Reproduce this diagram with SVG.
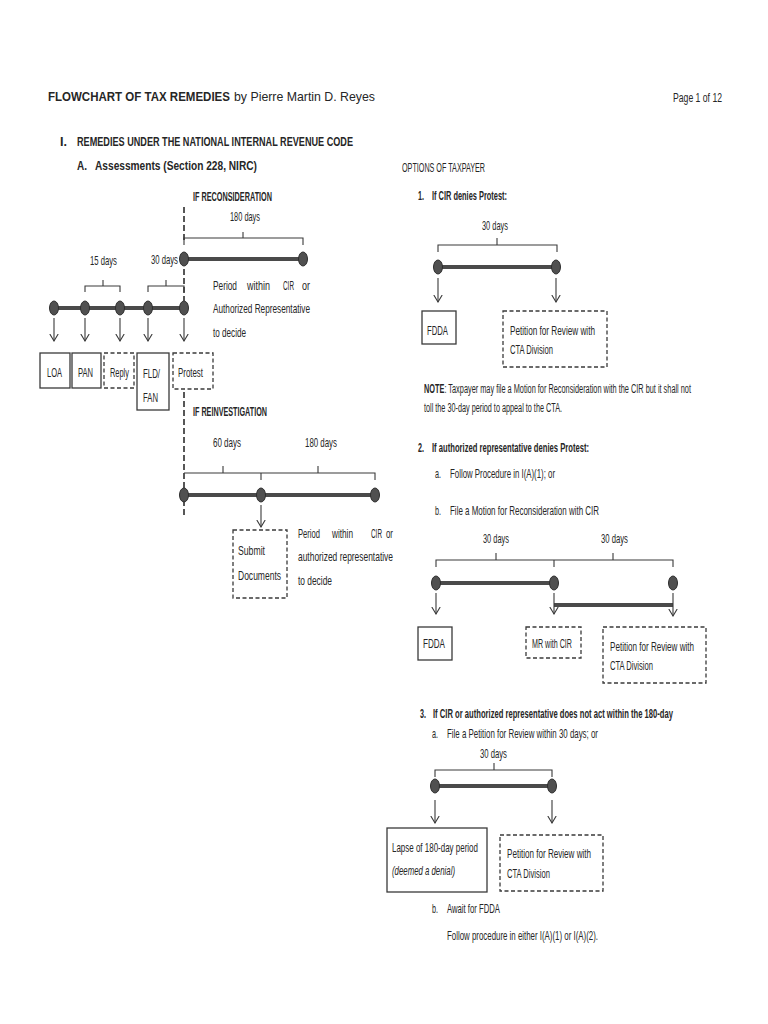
<svg xmlns="http://www.w3.org/2000/svg" width="768" height="1024" viewBox="0 0 768 1024">
<style>
text{font-family:"Liberation Sans",Arial,sans-serif;fill:#262626;font-size:13.5px}
.b{font-weight:bold}
.s{font-size:12px}
.i{font-style:italic}
.box{fill:none;stroke:#3a3a3a;stroke-width:1.3}
.dbox{fill:none;stroke:#3a3a3a;stroke-width:1.3;stroke-dasharray:4 2.5}
.br{fill:none;stroke:#3a3a3a;stroke-width:1.1}
.tl{stroke:#4a4a4a;stroke-width:4;stroke-linecap:butt}
.dot{fill:#505050;stroke:#2e2e2e;stroke-width:1}
.arr{stroke:#3a3a3a;stroke-width:1.1;fill:none;marker-end:url(#ah)}
.dv{stroke:#2e2e2e;stroke-width:1.6;stroke-dasharray:6 3;fill:none}
</style>
<defs>
<marker id="ah" viewBox="0 0 8 10" refX="7.5" refY="5" markerWidth="8" markerHeight="10" markerUnits="userSpaceOnUse" orient="auto">
<path d="M0.5,0.8 L7.5,5 L0.5,9.2" fill="none" stroke="#3a3a3a" stroke-width="1.1"/>
</marker>
</defs>
<rect width="768" height="1024" fill="#ffffff"/>

<g id="header">
<text transform="translate(48,101) scale(0.62,1)" class="b" font-size="21" textLength="293.5" lengthAdjust="spacingAndGlyphs">FLOWCHART OF TAX REMEDIES</text>
<text transform="translate(234,101) scale(0.62,1)" font-size="21" textLength="227.4" lengthAdjust="spacingAndGlyphs" fill="#333">by Pierre Martin D. Reyes</text>
<text transform="translate(673,102) scale(0.65,1)" font-size="14.5" textLength="75.4" lengthAdjust="spacingAndGlyphs">Page 1 of 12</text>
<text transform="translate(60,146) scale(0.6,1)" class="b" font-size="15" textLength="11.7" lengthAdjust="spacingAndGlyphs">I.</text>
<text transform="translate(77,146) scale(0.6,1)" class="b" font-size="15" textLength="460" lengthAdjust="spacingAndGlyphs">REMEDIES UNDER THE NATIONAL INTERNAL REVENUE CODE</text>
<text transform="translate(77,170) scale(0.6,1)" class="b" font-size="15" textLength="16.7" lengthAdjust="spacingAndGlyphs">A.</text>
<text transform="translate(95,170) scale(0.6,1)" class="b" font-size="15" textLength="270" lengthAdjust="spacingAndGlyphs">Assessments (Section 228, NIRC)</text>
<text transform="translate(402,172) scale(0.65,1)" class="s" textLength="127.7" lengthAdjust="spacingAndGlyphs">OPTIONS OF TAXPAYER</text>
</g>

<g id="connectors">
<path class="dv" d="M184,207 V240 M184,269 V301 M184,392 V517"/>
<path class="br" d="M184,245 V238 H303 V245 M243,232 V238"/>
<line class="tl" x1="184" y1="259" x2="303" y2="259"/>
<path class="br" d="M85,292 V286 H120 V292 M103,280 V286"/>
<path class="br" d="M148,292 V286 H184 V292 M166,280 V286"/>
<line class="tl" x1="54" y1="308" x2="184" y2="308"/>
<line class="arr" x1="54" y1="318" x2="54" y2="341"/>
<line class="arr" x1="85" y1="318" x2="85" y2="341"/>
<line class="arr" x1="120" y1="318" x2="120" y2="341"/>
<line class="arr" x1="148" y1="318" x2="148" y2="341"/>
<line class="arr" x1="184" y1="318" x2="184" y2="341"/>
<path class="br" d="M184,473 H375 V480 M223,466 V473 M318,466 V473 M261,473 V480"/>
<line class="tl" x1="184" y1="495" x2="375" y2="495"/>
<line class="arr" x1="261" y1="505" x2="261" y2="527"/>
<path class="br" d="M438,252 V245 H557 V252 M497,238 V245"/>
<line class="tl" x1="438" y1="267" x2="556" y2="267"/>
<line class="arr" x1="438" y1="278" x2="438" y2="302"/>
<line class="arr" x1="556" y1="278" x2="556" y2="302"/>
<path class="br" d="M436,567 V560 H673 V567 M496,553 V560 M613,553 V560 M554,560 V567"/>
<line class="tl" x1="436" y1="583" x2="554" y2="583"/>
<line class="tl" x1="554" y1="605" x2="673" y2="605"/>
<line class="arr" x1="436" y1="593" x2="436" y2="614"/>
<line class="arr" x1="554" y1="593" x2="554" y2="614"/>
<line class="arr" x1="673" y1="593" x2="673" y2="616"/>
<path class="br" d="M435,777 V770 H552 V777 M494,763 V770"/>
<line class="tl" x1="435" y1="786" x2="552" y2="786"/>
<line class="arr" x1="435" y1="800" x2="435" y2="823"/>
<line class="arr" x1="552" y1="800" x2="552" y2="823"/>
</g>

<g id="points">
<ellipse class="dot" cx="184" cy="259" rx="4.5" ry="7"/>
<ellipse class="dot" cx="303" cy="259" rx="4.5" ry="7"/>
<ellipse class="dot" cx="54" cy="308" rx="4.5" ry="7"/>
<ellipse class="dot" cx="85" cy="308" rx="4.5" ry="7"/>
<ellipse class="dot" cx="120" cy="308" rx="4.5" ry="7"/>
<ellipse class="dot" cx="148" cy="308" rx="4.5" ry="7"/>
<ellipse class="dot" cx="184" cy="308" rx="4.5" ry="7"/>
<ellipse class="dot" cx="184" cy="495" rx="4.5" ry="7"/>
<ellipse class="dot" cx="261" cy="495" rx="4.5" ry="7"/>
<ellipse class="dot" cx="375" cy="495" rx="4.5" ry="7"/>
<ellipse class="dot" cx="438" cy="267" rx="4.5" ry="7"/>
<ellipse class="dot" cx="556" cy="267" rx="4.5" ry="7"/>
<ellipse class="dot" cx="436" cy="583" rx="4.5" ry="7"/>
<ellipse class="dot" cx="554" cy="583" rx="4.5" ry="7"/>
<ellipse class="dot" cx="673" cy="583" rx="4.5" ry="7"/>
<ellipse class="dot" cx="435" cy="786" rx="4.5" ry="7"/>
<ellipse class="dot" cx="552" cy="786" rx="4.5" ry="7"/>
</g>

<g id="labels-left">
<text transform="translate(193,201) scale(0.6,1)" class="b s" textLength="131.7" lengthAdjust="spacingAndGlyphs">IF RECONSIDERATION</text>
<text transform="translate(230,221) scale(0.62,1)" textLength="48.4" lengthAdjust="spacingAndGlyphs">180 days</text>
<text transform="translate(151,264) scale(0.62,1)" textLength="43.5" lengthAdjust="spacingAndGlyphs">30 days</text>
<text transform="translate(90,265) scale(0.62,1)" textLength="43.5" lengthAdjust="spacingAndGlyphs">15 days</text>
<text transform="translate(213,290) scale(0.62,1)" textLength="38.7" lengthAdjust="spacingAndGlyphs">Period</text>
<text transform="translate(247,290) scale(0.62,1)" textLength="37.1" lengthAdjust="spacingAndGlyphs">within</text>
<text transform="translate(283,290) scale(0.55,1)" textLength="20" lengthAdjust="spacingAndGlyphs">CIR</text>
<text transform="translate(302,290) scale(0.62,1)" textLength="12.9" lengthAdjust="spacingAndGlyphs">or</text>
<text transform="translate(213,313) scale(0.62,1)" textLength="156.5" lengthAdjust="spacingAndGlyphs">Authorized Representative</text>
<text transform="translate(213,337) scale(0.62,1)" textLength="53.2" lengthAdjust="spacingAndGlyphs">to decide</text>
<text transform="translate(193,416) scale(0.6,1)" class="b s" textLength="123.3" lengthAdjust="spacingAndGlyphs">IF REINVESTIGATION</text>
<text transform="translate(213,447) scale(0.62,1)" textLength="45.2" lengthAdjust="spacingAndGlyphs">60 days</text>
<text transform="translate(305,447) scale(0.62,1)" textLength="51.6" lengthAdjust="spacingAndGlyphs">180 days</text>
<text transform="translate(298,538) scale(0.62,1)" textLength="35.5" lengthAdjust="spacingAndGlyphs">Period</text>
<text transform="translate(332,538) scale(0.62,1)" textLength="33.9" lengthAdjust="spacingAndGlyphs">within</text>
<text transform="translate(371,538) scale(0.5,1)" textLength="22" lengthAdjust="spacingAndGlyphs">CIR</text>
<text transform="translate(386,538) scale(0.55,1)" textLength="12.7" lengthAdjust="spacingAndGlyphs">or</text>
<text transform="translate(298,561) scale(0.62,1)" textLength="153.2" lengthAdjust="spacingAndGlyphs">authorized representative</text>
<text transform="translate(298,585) scale(0.62,1)" textLength="54.8" lengthAdjust="spacingAndGlyphs">to decide</text>
</g>

<g id="node-loa"><rect class="box" x="40" y="353" width="30" height="35"/><text transform="translate(47,377) scale(0.62,1)" textLength="24.2" lengthAdjust="spacingAndGlyphs">LOA</text></g>
<g id="node-pan"><rect class="box" x="72" y="353" width="29" height="35"/><text transform="translate(78,377) scale(0.62,1)" textLength="24.2" lengthAdjust="spacingAndGlyphs">PAN</text></g>
<g id="node-reply"><rect class="dbox" x="104" y="353" width="30" height="35"/><text transform="translate(110,377) scale(0.62,1)" textLength="30.6" lengthAdjust="spacingAndGlyphs">Reply</text></g>
<g id="node-fld"><rect class="box" x="137" y="353" width="32" height="57"/><text transform="translate(143,378) scale(0.62,1)" textLength="27.4" lengthAdjust="spacingAndGlyphs">FLD/</text><text transform="translate(143,402) scale(0.62,1)" textLength="24.2" lengthAdjust="spacingAndGlyphs">FAN</text></g>
<g id="node-protest"><rect class="dbox" x="173" y="353" width="40" height="36"/><text transform="translate(178,377) scale(0.62,1)" textLength="40.3" lengthAdjust="spacingAndGlyphs">Protest</text></g>
<g id="node-submit"><rect class="dbox" x="233" y="530" width="54" height="68"/><text transform="translate(238,555) scale(0.62,1)" textLength="43.5" lengthAdjust="spacingAndGlyphs">Submit</text><text transform="translate(238,580) scale(0.62,1)" textLength="69.4" lengthAdjust="spacingAndGlyphs">Documents</text></g>

<g id="labels-right">
<text transform="translate(418,200) scale(0.6,1)" class="b" textLength="10" lengthAdjust="spacingAndGlyphs">1.</text>
<text transform="translate(432,200) scale(0.6,1)" class="b" textLength="125" lengthAdjust="spacingAndGlyphs">If CIR denies Protest:</text>
<text transform="translate(482,230) scale(0.62,1)" textLength="41.9" lengthAdjust="spacingAndGlyphs">30 days</text>
<text transform="translate(424,393) scale(0.6,1)" font-size="12" textLength="445" lengthAdjust="spacingAndGlyphs"><tspan class="b">NOTE</tspan>: Taxpayer may file a Motion for Reconsideration with the CIR but it shall not</text>
<text transform="translate(424,412) scale(0.6,1)" font-size="12" textLength="230" lengthAdjust="spacingAndGlyphs">toll the 30-day period to appeal to the CTA.</text>
<text transform="translate(418,452) scale(0.6,1)" class="b" textLength="10" lengthAdjust="spacingAndGlyphs">2.</text>
<text transform="translate(432,452) scale(0.6,1)" class="b" textLength="261.7" lengthAdjust="spacingAndGlyphs">If authorized representative denies Protest:</text>
<text transform="translate(435,478) scale(0.62,1)" textLength="9.7" lengthAdjust="spacingAndGlyphs">a.</text>
<text transform="translate(450,478) scale(0.62,1)" textLength="169.4" lengthAdjust="spacingAndGlyphs">Follow Procedure in I(A)(1); or</text>
<text transform="translate(435,515) scale(0.62,1)" textLength="9.7" lengthAdjust="spacingAndGlyphs">b.</text>
<text transform="translate(450,515) scale(0.62,1)" textLength="240.3" lengthAdjust="spacingAndGlyphs">File a Motion for Reconsideration with CIR</text>
<text transform="translate(483,543) scale(0.62,1)" textLength="41.9" lengthAdjust="spacingAndGlyphs">30 days</text>
<text transform="translate(601,543) scale(0.62,1)" textLength="43.5" lengthAdjust="spacingAndGlyphs">30 days</text>
<text transform="translate(420,718) scale(0.6,1)" class="b" textLength="10" lengthAdjust="spacingAndGlyphs">3.</text>
<text transform="translate(433,718) scale(0.6,1)" class="b" textLength="400" lengthAdjust="spacingAndGlyphs">If CIR or authorized representative does not act within the 180-day</text>
<text transform="translate(432,738) scale(0.62,1)" textLength="9.7" lengthAdjust="spacingAndGlyphs">a.</text>
<text transform="translate(447,738) scale(0.62,1)" textLength="243.5" lengthAdjust="spacingAndGlyphs">File a Petition for Review within 30 days; or</text>
<text transform="translate(480,758) scale(0.62,1)" textLength="43.5" lengthAdjust="spacingAndGlyphs">30 days</text>
<text transform="translate(432,913) scale(0.62,1)" textLength="9.7" lengthAdjust="spacingAndGlyphs">b.</text>
<text transform="translate(447,913) scale(0.62,1)" textLength="85.5" lengthAdjust="spacingAndGlyphs">Await for FDDA</text>
<text transform="translate(447,940) scale(0.62,1)" textLength="243.5" lengthAdjust="spacingAndGlyphs">Follow procedure in either I(A)(1) or I(A)(2).</text>
</g>

<g id="node-fdda1"><rect class="box" x="422" y="311" width="34" height="33"/><text transform="translate(427,335) scale(0.62,1)" textLength="33.9" lengthAdjust="spacingAndGlyphs">FDDA</text></g>
<g id="node-petition1"><rect class="dbox" x="503" y="311" width="104" height="56"/><text transform="translate(510,335) scale(0.62,1)" textLength="137.1" lengthAdjust="spacingAndGlyphs">Petition for Review with</text><text transform="translate(510,354) scale(0.62,1)" textLength="69.4" lengthAdjust="spacingAndGlyphs">CTA Division</text></g>
<g id="node-fdda2"><rect class="box" x="418" y="627" width="34" height="33"/><text transform="translate(423,648) scale(0.62,1)" textLength="35.5" lengthAdjust="spacingAndGlyphs">FDDA</text></g>
<g id="node-mr"><rect class="dbox" x="526" y="627" width="55" height="31"/><text transform="translate(532,648) scale(0.62,1)" textLength="64.5" lengthAdjust="spacingAndGlyphs">MR with CIR</text></g>
<g id="node-petition2"><rect class="dbox" x="603" y="627" width="103" height="56"/><text transform="translate(610,651) scale(0.62,1)" textLength="135.5" lengthAdjust="spacingAndGlyphs">Petition for Review with</text><text transform="translate(610,670) scale(0.62,1)" textLength="69.4" lengthAdjust="spacingAndGlyphs">CTA Division</text></g>
<g id="node-lapse"><rect class="box" x="387" y="828" width="100" height="64"/><text transform="translate(392,852) scale(0.62,1)" textLength="138.7" lengthAdjust="spacingAndGlyphs">Lapse of 180-day period</text><text transform="translate(392,875) scale(0.62,1)" class="i" textLength="101.6" lengthAdjust="spacingAndGlyphs">(deemed a denial)</text></g>
<g id="node-petition3"><rect class="dbox" x="500" y="835" width="103" height="56"/><text transform="translate(507,858) scale(0.62,1)" textLength="135.5" lengthAdjust="spacingAndGlyphs">Petition for Review with</text><text transform="translate(507,878) scale(0.62,1)" textLength="69.4" lengthAdjust="spacingAndGlyphs">CTA Division</text></g>
</svg>
